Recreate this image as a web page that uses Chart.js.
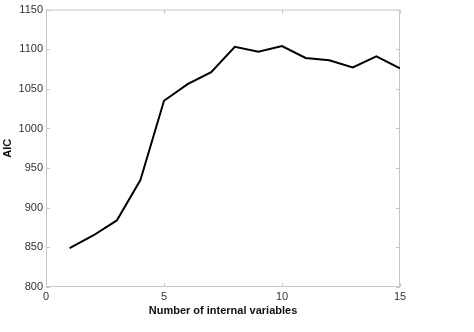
<!DOCTYPE html>
<html>
<head>
<meta charset="utf-8">
<script src="https://cdn.jsdelivr.net/npm/chart.js@4"></script>
<style>
  html, body { margin: 0; padding: 0; background: #fff; }
  #wrap { width: 474px; height: 332px; }
</style>
</head>
<body>
<div id="wrap"><canvas id="myChart" width="474" height="332"></canvas></div>
<script>
// AIC vs number of internal variables
var numVars = [1, 2, 3, 4, 5, 6, 7, 8, 9, 10, 11, 12, 13, 14, 15];
var aic = [849, 865, 884, 935, 1035, 1056, 1071, 1103, 1097, 1104, 1089, 1086, 1077, 1091, 1076];
var xTicks = [0, 5, 10, 15];
var yTicks = [800, 850, 900, 950, 1000, 1050, 1100, 1150];

var points = numVars.map(function (v, i) { return { x: v, y: aic[i] }; });

var boxColor = '#c8c8c8';

// box round the plot and small inward ticks
var frame = {
  id: 'frame',
  beforeDatasetsDraw: function (chart) {
    var c = chart.ctx, a = chart.chartArea;
    var sx = chart.scales.x, sy = chart.scales.y;
    c.save();
    c.strokeStyle = boxColor;
    c.lineWidth = 1;
    c.strokeRect(a.left + 0.5, a.top + 0.5, a.right - a.left - 1, a.bottom - a.top - 1);
    c.beginPath();
    xTicks.forEach(function (t) {
      var px = Math.round(sx.getPixelForValue(t)) + 0.5;
      c.moveTo(px, a.bottom); c.lineTo(px, a.bottom - 4);
      c.moveTo(px, a.top); c.lineTo(px, a.top + 4);
    });
    yTicks.forEach(function (t) {
      var py = Math.round(sy.getPixelForValue(t)) + 0.5;
      c.moveTo(a.left, py); c.lineTo(a.left + 4, py);
      c.moveTo(a.right, py); c.lineTo(a.right - 4, py);
    });
    c.stroke();
    c.restore();
  }
};

var plain = function (v) { return String(v); };

var ctx = document.getElementById('myChart');
new Chart(ctx, {
  type: 'line',
  data: {
    datasets: [{
      data: points,
      borderColor: '#000',
      borderWidth: 2,
      pointRadius: 0,
      tension: 0,
      fill: false
    }]
  },
  options: {
    responsive: false,
    animation: false,
    layout: { padding: { top: 8, right: 74, bottom: 14, left: 0 } },
    plugins: { legend: { display: false }, tooltip: { enabled: false } },
    scales: {
      x: {
        type: 'linear',
        min: 0, max: 15,
        afterBuildTicks: function (s) { s.ticks = xTicks.map(function (v) { return { value: v }; }); },
        afterFit: function (s) { s.height = 31; },
        grid: { display: false, drawTicks: false },
        border: { display: false },
        ticks: { color: '#333', padding: 3, callback: plain, font: { family: 'Liberation Sans', size: 11 } },
        title: {
          display: true,
          text: 'Number of internal variables',
          color: '#111',
          padding: { top: 2, bottom: 0 },
          font: { family: 'Liberation Sans', size: 11, weight: 'bold' }
        }
      },
      y: {
        min: 800, max: 1150,
        afterBuildTicks: function (s) { s.ticks = yTicks.map(function (v) { return { value: v }; }); },
        afterFit: function (s) { s.width = 46; },
        grid: { display: false, drawTicks: false },
        border: { display: false },
        ticks: { color: '#333', padding: 3, callback: plain, font: { family: 'Liberation Sans', size: 11 } },
        title: {
          display: true,
          text: 'AIC',
          color: '#111',
          padding: { top: 1, bottom: 0 },
          font: { family: 'Liberation Sans', size: 11, weight: 'bold' }
        }
      }
    }
  },
  plugins: [frame]
});
</script>
</body>
</html>
